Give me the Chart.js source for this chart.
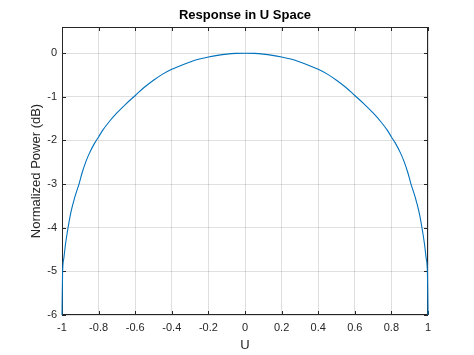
<!DOCTYPE html>
<html>
<head>
<meta charset="utf-8">
<script src="https://cdn.jsdelivr.net/npm/chart.js@4"></script>
<style>
  body { margin: 0; background: #fff; }
  #wrap { width: 474px; height: 355px; }
</style>
</head>
<body>
<div id="wrap"><canvas id="uChart" width="474" height="355"></canvas></div>
<script>
// values (U vs normalized power in dB)
const uValues = [-1, -0.997, -0.99, -0.98, -0.967, -0.95, -0.93, -0.905, -0.89, -0.87, -0.85, -0.82, -0.8, -0.78, -0.74, -0.7, -0.65, -0.6, -0.55, -0.5, -0.45, -0.4, -0.35, -0.3, -0.25, -0.2, -0.15, -0.1, -0.05,
  0, 0.05, 0.1, 0.15, 0.2, 0.25, 0.3, 0.35, 0.4, 0.45, 0.5, 0.55, 0.6, 0.65, 0.7, 0.74, 0.78, 0.8, 0.82, 0.85, 0.87, 0.89, 0.905, 0.93, 0.95, 0.967, 0.98, 0.99, 0.997, 1];
const powerDb = [-6, -5.05, -4.7, -4.35, -4.0, -3.62, -3.3, -2.97, -2.74, -2.49, -2.29, -2.05, -1.92, -1.78, -1.56, -1.37, -1.16, -0.97, -0.78, -0.62, -0.48, -0.37, -0.28, -0.2, -0.135, -0.088, -0.05, -0.022, -0.005,
  0, -0.005, -0.022, -0.05, -0.088, -0.135, -0.2, -0.28, -0.37, -0.48, -0.62, -0.78, -0.97, -1.16, -1.37, -1.56, -1.78, -1.92, -2.05, -2.29, -2.49, -2.74, -2.97, -3.3, -3.62, -4.0, -4.35, -4.7, -5.05, -6];

const xTicks = [-1, -0.8, -0.6, -0.4, -0.2, 0, 0.2, 0.4, 0.6, 0.8, 1];
const yTicks = [-6, -5, -4, -3, -2, -1, 0];

const axisColor = '#262626';
const fontFam = '"Liberation Sans", Arial, sans-serif';

// matlab style box with inward ticks
const boxPlugin = {
    id: 'boxPlugin',
    afterLayout(chart) {
        // center title over the axes, not the canvas
        const t = chart.titleBlock;
        if (t) {
            t.left = chart.chartArea.left;
            t.right = chart.chartArea.right;
            t.width = t.right - t.left;
        }
    },
    beforeDatasetsDraw(chart) {
        const ctx = chart.ctx;
        const a = chart.chartArea;
        const xs = chart.scales.x, ys = chart.scales.y;
        ctx.save();
        ctx.strokeStyle = axisColor;
        ctx.lineWidth = 1;
        ctx.strokeRect(a.left + 0.5, a.top + 0.5, a.right - a.left - 1, a.bottom - a.top - 1);
        ctx.beginPath();
        xTicks.forEach(v => {
            const px = Math.round(xs.getPixelForValue(v)) + 0.5;
            ctx.moveTo(px, a.bottom); ctx.lineTo(px, a.bottom - 4);
            ctx.moveTo(px, a.top); ctx.lineTo(px, a.top + 4);
        });
        yTicks.forEach(v => {
            const py = Math.round(ys.getPixelForValue(v)) + 0.5;
            ctx.moveTo(a.left, py); ctx.lineTo(a.left + 4, py);
            ctx.moveTo(a.right, py); ctx.lineTo(a.right - 4, py);
        });
        ctx.stroke();
        ctx.restore();
    }
};

const points = uValues.map((u, i) => ({ x: u, y: powerDb[i] }));

new Chart(document.getElementById('uChart'), {
    type: 'line',
    data: {
        datasets: [{
            data: points,
            borderColor: '#0072BD',
            borderWidth: 1.1,
            pointRadius: 0,
            cubicInterpolationMode: 'monotone',
            fill: false,
            clip: 2
        }]
    },
    options: {
        responsive: false,
        animation: false,
        layout: { padding: { left: 0, right: 46, top: 0, bottom: 0 } },
        plugins: {
            legend: { display: false },
            tooltip: { enabled: false },
            title: {
                display: true,
                text: 'Response in U Space',
                color: '#000',
                font: { family: fontFam, size: 13, weight: 'bold', lineHeight: 1.2 },
                padding: { top: 8, bottom: 3.4 }
            }
        },
        scales: {
            x: {
                type: 'linear',
                min: -1,
                max: 1,
                afterBuildTicks: s => { s.ticks = xTicks.map(v => ({ value: v })); },
                afterFit: s => { s.height = 40; },
                grid: { color: 'rgba(38,38,38,0.15)', drawTicks: false },
                border: { display: false },
                ticks: {
                    color: axisColor,
                    padding: 6,
                    maxRotation: 0,
                    font: { family: fontFam, size: 11 },
                    callback: v => String(v)
                },
                title: {
                    display: true,
                    text: 'U',
                    color: axisColor,
                    font: { family: fontFam, size: 13, lineHeight: 1.2 },
                    padding: { top: 0, bottom: 2 }
                }
            },
            y: {
                min: -6,
                max: 0.6,
                afterBuildTicks: s => { s.ticks = yTicks.map(v => ({ value: v })); },
                afterFit: s => { s.width = 62; },
                grid: { color: 'rgba(38,38,38,0.15)', drawTicks: false },
                border: { display: false },
                ticks: {
                    color: axisColor,
                    padding: 5,
                    font: { family: fontFam, size: 11 },
                    callback: v => String(v)
                },
                title: {
                    display: true,
                    text: 'Normalized Power (dB)',
                    color: axisColor,
                    font: { family: fontFam, size: 13, lineHeight: 1.2 },
                    padding: { top: 29, bottom: 0 }
                }
            }
        }
    },
    plugins: [boxPlugin]
});
</script>
</body>
</html>
